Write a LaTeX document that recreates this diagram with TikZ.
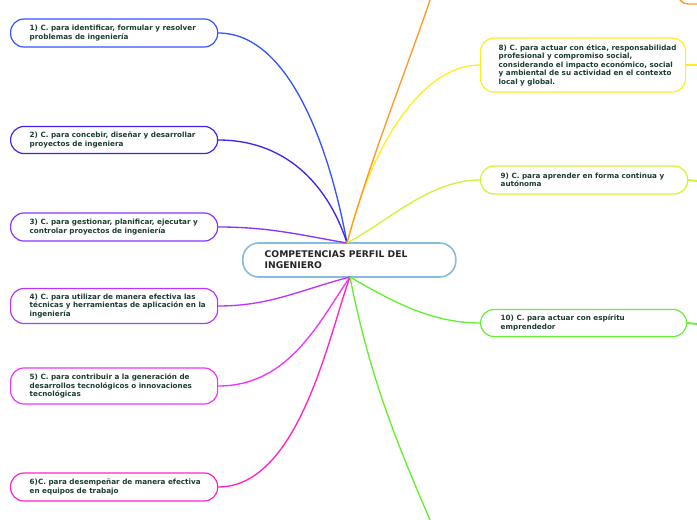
\documentclass[tikz,border=0pt]{standalone}
\usepackage{fontspec}
\setmainfont{DejaVu Sans}
\begin{document}
\begin{tikzpicture}[x=0.75pt,y=-0.75pt,
 box/.style={draw,rounded corners=10pt,line width=0.9pt,minimum height=#1*0.75pt,anchor=west,inner xsep=0pt},
 lab/.style={font=\fontsize{5.4}{6.4}\selectfont\bfseries,text=txt,align=left,anchor=west},
 con/.style={line width=1pt}]
\definecolor{txt}{HTML}{1A3D2E}
\definecolor{c1}{HTML}{3355FF}\definecolor{c2}{HTML}{4422EE}\definecolor{c3}{HTML}{8833FF}
\definecolor{c4}{HTML}{BB33FF}\definecolor{c5}{HTML}{EE33FF}\definecolor{c6}{HTML}{FF22CC}
\definecolor{c7}{HTML}{FF9922}\definecolor{c8}{HTML}{FFEE22}\definecolor{c9}{HTML}{CCF533}\definecolor{c10}{HTML}{66EE33}
\definecolor{cc}{HTML}{88BBDD}
\useasboundingbox (0,0) rectangle (697,520);
% center
\node[box=34,draw=cc,minimum width=213*0.75pt,line width=1.2pt,rounded corners=12pt] (C) at (242,260) {};
\node[lab,font=\fontsize{6.9}{8.2}\selectfont\bfseries,text=black!85] at (260,260) {COMPETENCIAS PERFIL DEL\\INGENIERO};
\coordinate (ct) at (347,243); \coordinate (cb) at (350,277);
% left boxes
\foreach \i/\y/\h/\t in {1/33/28/{1) C. para identificar, formular y resolver\\problemas de ingeniería},
 2/140/27/{2) C. para concebir, diseñar y desarrollar\\proyectos de ingeniera},
 3/227/28/{3) C. para gestionar, planificar, ejecutar y\\controlar proyectos de ingeniería},
 4/306/35/{4) C. para utilizar de manera efectiva las\\técnicas y herramientas de aplicación en la\\ingeniería},
 5/386/36/{5) C. para contribuir a la generación de\\desarrollos tecnológicos o innovaciones\\tecnológicas},
 6/487/28/{6)C. para desempeñar de manera efectiva\\en equipos de trabajo}}{
 \node[box=\h,draw=c\i,minimum width=207*0.75pt] (L\i) at (10,\y) {};
 \node[lab] at (25,\y) {\t};
}
\draw[con,c1] (L1.east) .. controls (290,33) and (330,150) .. (ct);
\draw[con,c2] (L2.east) .. controls (290,140) and (330,190) .. (ct);
\draw[con,c3] (L3.east) .. controls (270,227) and (300,235) .. (ct);
\draw[con,c4] (L4.east) .. controls (270,306) and (300,290) .. (cb);
\draw[con,c5] (L5.east) .. controls (290,386) and (320,320) .. (cb);
\draw[con,c6] (L6.east) .. controls (300,487) and (330,330) .. (cb);
% right boxes
\node[box=54,draw=c8,minimum width=205*0.75pt] (R8) at (480,65) {};
\node[lab] at (494,65) {8) C. para actuar con ética, responsabilidad\\profesional y compromiso social,\\considerando el impacto económico, social\\y ambiental de su actividad en el contexto\\local y global.};
\node[box=28,draw=c9,minimum width=207*0.75pt] (R9) at (480,180) {};
\node[lab] at (496,180) {9) C. para aprender en forma continua y\\autónoma};
\node[box=27,draw=c10,minimum width=206*0.75pt] (R10) at (480,323) {};
\node[lab] at (496,323) {10) C. para actuar con espíritu\\emprendedor};
\draw[con,c8] (R8.west) .. controls (420,65) and (370,150) .. (ct);
\draw[con,c9] (R9.west) .. controls (430,180) and (390,220) .. (ct);
\draw[con,c10] (R10.west) .. controls (430,323) and (390,300) .. (cb);
\draw[con,c8,line width=1.4pt] (R8.east) -- (697,65);
\draw[con,c9,line width=1.4pt] (R9.east) -- (697,181);
\draw[con,c10,line width=1.4pt] (R10.east) -- (697,324);
% partial branches
\coordinate (top7) at (430,0); \coordinate (bot11) at (430,520);
\draw[con,c7] (ct) .. controls (370,160) and (410,60) .. (top7);
\draw[con,c10] (cb) .. controls (370,380) and (400,450) .. (bot11);
\draw[c7,line width=1pt,rounded corners=4pt] (680,0) -- (683,4) -- (697,4);
\end{tikzpicture}
\end{document}
